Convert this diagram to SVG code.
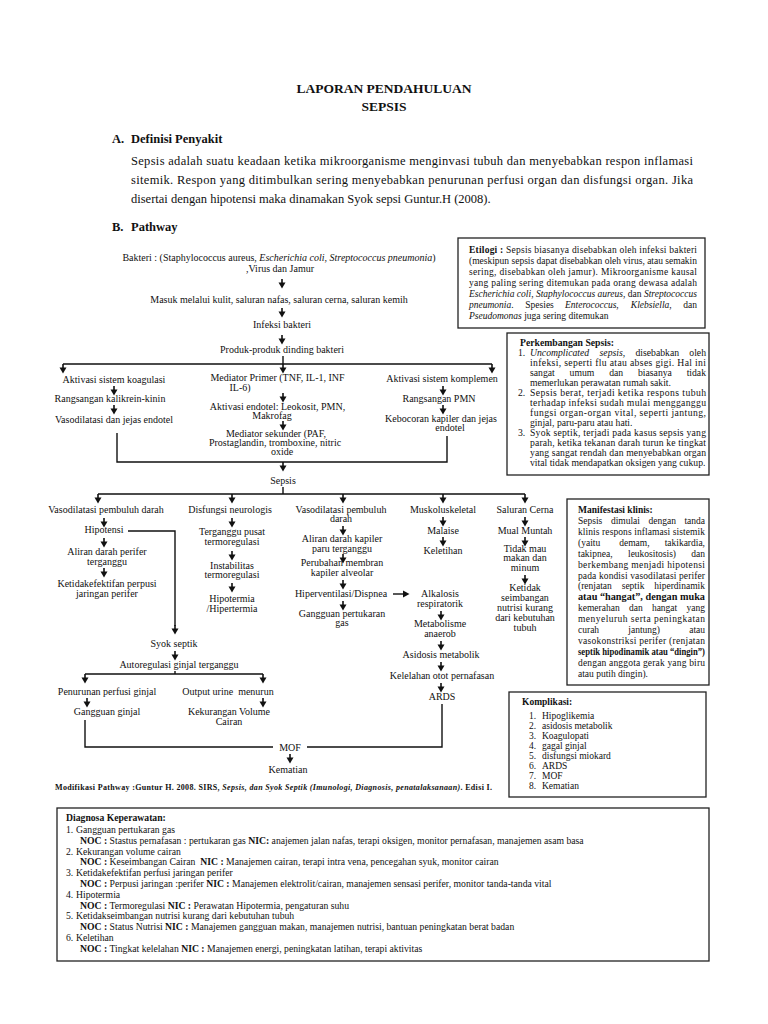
<svg xmlns="http://www.w3.org/2000/svg" width="768" height="1024" viewBox="0 0 768 1024">
<defs>
<style>
text{font-family:"Liberation Serif","Times New Roman",serif;fill:#111}
.p{font-size:10px;text-anchor:middle}
.b{font-weight:bold}
.i{font-style:italic}
.box{fill:#fff;stroke:#222;stroke-width:1.3}
.ln{fill:none;stroke:#111;stroke-width:1.4}
.e{font-size:9.5px}
.k{font-size:9.7px}
.d{font-size:9.7px}
.end{text-anchor:end}
.h{font-size:13.5px;font-weight:bold;text-anchor:middle}
.q{font-size:12.5px}
</style>
<g id="ar"><line x1="0" y1="0" x2="0" y2="5" stroke="#111" stroke-width="1.6"/><path d="M-3.5,3.5H3.5L0,9.5Z" fill="#111"/></g>
</defs>
<rect width="768" height="1024" fill="#fff"/>

<g id="title">
<text class="h" x="384" y="93">LAPORAN PENDAHULUAN</text>
<text class="h" x="384" y="111">SEPSIS</text>
</g>

<g id="definisi">
<text class="q b" x="112" y="143">A.</text>
<text class="q b" x="131" y="143">Definisi Penyakit</text>
<text class="q" x="131" y="165" textLength="562" lengthAdjust="spacing">Sepsis adalah suatu keadaan ketika mikroorganisme menginvasi tubuh dan menyebabkan respon inflamasi</text>
<text class="q" x="131" y="184" textLength="562" lengthAdjust="spacing">sitemik. Respon yang ditimbulkan sering menyebabkan penurunan perfusi organ dan disfungsi organ. Jika</text>
<text class="q" x="131" y="203">disertai dengan hipotensi maka dinamakan Syok sepsi Guntur.H (2008).</text>
<text class="q b" x="112" y="231">B.</text>
<text class="q b" x="131" y="231">Pathway</text>
</g>

<g id="etiologi">
<rect class="box" x="458" y="238" width="247" height="90"/>
<text class="e" x="469" y="253" textLength="228" lengthAdjust="spacing"><tspan class="b">Etilogi :</tspan> Sepsis biasanya disebabkan oleh infeksi bakteri</text>
<text class="e" x="469" y="264" textLength="228" lengthAdjust="spacing">(meskipun sepsis dapat disebabkan oleh virus, atau semakin</text>
<text class="e" x="469" y="275" textLength="228" lengthAdjust="spacing">sering, disebabkan oleh jamur). Mikroorganisme kausal</text>
<text class="e" x="469" y="286" textLength="228" lengthAdjust="spacing">yang paling sering ditemukan pada orang dewasa adalah</text>
<text class="e" x="469" y="297" textLength="228" lengthAdjust="spacing"><tspan class="i">Escherichia coli</tspan>, <tspan class="i">Staphylococcus aureus</tspan>, dan <tspan class="i">Streptococcus</tspan></text>
<text class="e" y="308"><tspan class="i" x="469">pneumonia</tspan>.<tspan x="525.3">Spesies</tspan><tspan class="i" x="565">Enterococcus</tspan>,<tspan class="i" x="630.8">Klebsiella</tspan>,</text>
<text class="e end" x="697" y="308">dan</text>
<text class="e" x="469" y="319"><tspan class="i">Pseudomonas</tspan> juga sering ditemukan</text>
</g>

<g id="perkembangan">
<rect class="box" x="507" y="333" width="202" height="142"/>
<text class="k b" x="520" y="346">Perkembangan Sepsis:</text>
<text class="k" x="518" y="356">1.</text>
<text class="k" y="356"><tspan class="i" x="530">Uncomplicated</tspan><tspan class="i" x="599.6">sepsis</tspan>,<tspan x="635.5">disebabkan</tspan></text>
<text class="k end" x="706" y="356">oleh</text>
<text class="k" x="530" y="366" textLength="176" lengthAdjust="spacing">infeksi, seperti flu atau abses gigi. Hal ini</text>
<text class="k" y="376"><tspan x="530">sangat</tspan><tspan x="569.6">umum</tspan><tspan x="609.2">dan</tspan><tspan x="638">biasanya</tspan></text>
<text class="k end" x="706" y="376">tidak</text>
<text class="k" x="530" y="386">memerlukan perawatan rumah sakit.</text>
<text class="k" x="518" y="396">2.</text>
<text class="k" x="530" y="396" textLength="176" lengthAdjust="spacing">Sepsis berat, terjadi ketika respons tubuh</text>
<text class="k" x="530" y="406" textLength="176" lengthAdjust="spacing">terhadap infeksi sudah mulai mengganggu</text>
<text class="k" x="530" y="416" textLength="176" lengthAdjust="spacing">fungsi organ-organ vital, seperti jantung,</text>
<text class="k" x="530" y="426">ginjal, paru-paru atau hati.</text>
<text class="k" x="518" y="436">3.</text>
<text class="k" x="530" y="436" textLength="176" lengthAdjust="spacing">Syok septik, terjadi pada kasus sepsis yang</text>
<text class="k" x="530" y="446" textLength="176" lengthAdjust="spacing">parah, ketika tekanan darah turun ke tingkat</text>
<text class="k" x="530" y="456" textLength="176" lengthAdjust="spacing">yang sangat rendah dan menyebabkan organ</text>
<text class="k" x="530" y="466">vital tidak mendapatkan oksigen yang cukup.</text>
</g>

<g id="manifestasi">
<rect class="box" x="567" y="499" width="142" height="186"/>
<text class="e b" x="578" y="513">Manifestasi klinis:</text>
<text class="e" y="524"><tspan x="578">Sepsis</tspan><tspan x="610.9">dimulai</tspan><tspan x="648.5">dengan</tspan></text>
<text class="e end" x="705" y="524">tanda</text>
<text class="e" x="578" y="534.9" textLength="127" lengthAdjust="spacing">klinis respons inflamasi sistemik</text>
<text class="e" y="545.8"><tspan x="578">(yaitu</tspan><tspan x="619.2">demam,</tspan></text>
<text class="e end" x="705" y="545.8">takikardia,</text>
<text class="e" y="556.7"><tspan x="578">takipnea,</tspan><tspan x="628">leukositosis)</tspan></text>
<text class="e end" x="705" y="556.7">dan</text>
<text class="e" x="578" y="567.6" textLength="127" lengthAdjust="spacing">berkembang menjadi hipotensi</text>
<text class="e" x="578" y="578.5" textLength="127" lengthAdjust="spacing">pada kondisi vasodilatasi perifer</text>
<text class="e" y="589.4"><tspan x="578">(renjatan</tspan><tspan x="621.7">septik</tspan></text>
<text class="e end" x="705" y="589.4">hiperdinamik</text>
<text class="e b" x="578" y="600.3" textLength="127" lengthAdjust="spacingAndGlyphs">atau “hangat”, dengan muka</text>
<text class="e" y="611.2"><tspan x="578">kemerahan</tspan><tspan x="629">dan</tspan><tspan x="651.9">hangat</tspan></text>
<text class="e end" x="705" y="611.2">yang</text>
<text class="e" x="578" y="622.1" textLength="127" lengthAdjust="spacing">menyeluruh serta peningkatan</text>
<text class="e" y="633"><tspan x="578">curah</tspan><tspan x="628.3">jantung)</tspan></text>
<text class="e end" x="705" y="633">atau</text>
<text class="e" x="578" y="643.9" textLength="127" lengthAdjust="spacing">vasokonstriksi perifer (renjatan</text>
<text class="e b" x="578" y="654.8" textLength="127" lengthAdjust="spacingAndGlyphs">septik hipodinamik atau “dingin”)</text>
<text class="e" x="578" y="665.7" textLength="127" lengthAdjust="spacing">dengan anggota gerak yang biru</text>
<text class="e" x="578" y="676.6">atau putih dingin).</text>
</g>

<g id="komplikasi">
<rect class="box" x="509" y="692" width="197" height="105"/>
<text class="e b" x="522" y="705">Komplikasi:</text>
<text class="e" x="529" y="719">1.</text><text class="e" x="542" y="719">Hipoglikemia</text>
<text class="e" x="529" y="729">2.</text><text class="e" x="542" y="729">asidosis metabolik</text>
<text class="e" x="529" y="739">3.</text><text class="e" x="542" y="739">Koagulopati</text>
<text class="e" x="529" y="749">4.</text><text class="e" x="542" y="749">gagal ginjal</text>
<text class="e" x="529" y="759">5.</text><text class="e" x="542" y="759">disfungsi miokard</text>
<text class="e" x="529" y="769">6.</text><text class="e" x="542" y="769">ARDS</text>
<text class="e" x="529" y="779">7.</text><text class="e" x="542" y="779">MOF</text>
<text class="e" x="529" y="789">8.</text><text class="e" x="542" y="789">Kematian</text>
</g>

<g id="n-bakteri"><text class="p" x="279" y="261">Bakteri  : (Staphylococcus aureus, <tspan class="i">Escherichia coli</tspan>, <tspan class="i">Streptococcus pneumonia</tspan>)</text><text class="p" x="280" y="272">,Virus dan  Jamur</text></g>
<g id="n-masuk"><text class="p" x="279" y="303">Masuk melalui kulit, saluran nafas, saluran cerna, saluran kemih</text></g>
<g id="n-infeksi"><text class="p" x="282" y="328">Infeksi bakteri</text></g>
<g id="n-produk"><text class="p" x="282" y="353">Produk-produk dinding bakteri</text></g>
<g id="n-koagulasi"><text class="p" x="114" y="383">Aktivasi sistem koagulasi</text></g>
<g id="n-kalikrein"><text class="p" x="110" y="402">Rangsangan kalikrein-kinin</text></g>
<g id="n-vasojejas"><text class="p" x="114" y="423">Vasodilatasi dan jejas endotel</text></g>
<g id="n-medprimer"><text class="p" x="277.5" y="381">Mediator Primer (TNF, IL-1, INF</text><text class="p" x="240" y="391">IL-6)</text></g>
<g id="n-endotel"><text class="p" x="277.5" y="410">Aktivasi endotel: Leokosit, PMN,</text><text class="p" x="272" y="419">Makrofag</text></g>
<g id="n-medsekunder"><text class="p" x="276" y="437">Mediator sekunder (PAF,</text><text class="p" x="275" y="446">Prostaglandin, tromboxine, nitric</text><text class="p" x="282" y="455">oxide</text></g>
<g id="n-komplemen"><text class="p" x="442" y="382">Aktivasi sistem komplemen</text></g>
<g id="n-pmn"><text class="p" x="439" y="402">Rangsangan PMN</text></g>
<g id="n-kebocoran"><text class="p" x="441" y="422">Kebocoran kapiler dan jejas</text><text class="p" x="450" y="431">endotel</text></g>
<g id="n-sepsis"><text class="p" x="283" y="484">Sepsis</text></g>

<g id="n-vaso1"><text class="p" x="106" y="513">Vasodilatasi pembuluh darah</text></g>
<g id="n-hipotensi"><text class="p" x="104" y="533">Hipotensi</text></g>
<g id="n-aliran1"><text class="p" x="107" y="555">Aliran darah perifer</text><text class="p" x="107" y="565">terganggu</text></g>
<g id="n-perpusi"><text class="p" x="107" y="587">Ketidakefektifan perpusi</text><text class="p" x="107" y="597">jaringan perifer</text></g>
<g id="n-neuro"><text class="p" x="230" y="513">Disfungsi neurologis</text></g>
<g id="n-pusat"><text class="p" x="232" y="535">Terganggu pusat</text><text class="p" x="232" y="545">termoregulasi</text></g>
<g id="n-instab"><text class="p" x="232" y="569">Instabilitas</text><text class="p" x="232" y="578">termoregulasi</text></g>
<g id="n-hipotermia"><text class="p" x="232" y="602">Hipotermia</text><text class="p" x="232" y="612">/Hipertermia</text></g>
<g id="n-vaso2"><text class="p" x="341" y="513">Vasodilatasi pembuluh</text><text class="p" x="341" y="522">darah</text></g>
<g id="n-aliran2"><text class="p" x="342" y="542">Aliran darah kapiler</text><text class="p" x="342" y="552">paru terganggu</text></g>
<g id="n-membran"><text class="p" x="342" y="566">Perubahan membran</text><text class="p" x="342" y="576">kapiler alveolar</text></g>
<g id="n-hiperv"><text class="p" x="341" y="597">Hiperventilasi/Dispnea</text></g>
<g id="n-gangguangas"><text class="p" x="342" y="617">Gangguan pertukaran</text><text class="p" x="342" y="626">gas</text></g>
<g id="n-musk"><text class="p" x="443" y="513">Muskoluskeletal</text></g>
<g id="n-malaise"><text class="p" x="443" y="534">Malaise</text></g>
<g id="n-keletihan"><text class="p" x="443" y="554">Keletihan</text></g>
<g id="n-alkalosis"><text class="p" x="440" y="597">Alkalosis</text><text class="p" x="440" y="607">respiratorik</text></g>
<g id="n-metab"><text class="p" x="440" y="627">Metabolisme</text><text class="p" x="440" y="637">anaerob</text></g>
<g id="n-asidosis"><text class="p" x="441" y="658">Asidosis metabolik</text></g>
<g id="n-kelelahan"><text class="p" x="442" y="679">Kelelahan otot pernafasan</text></g>
<g id="n-ards"><text class="p" x="442" y="700">ARDS</text></g>
<g id="n-cerna"><text class="p" x="525" y="513">Saluran Cerna</text></g>
<g id="n-mual"><text class="p" x="525" y="534">Mual Muntah</text></g>
<g id="n-tidakmau"><text class="p" x="525" y="552">Tidak mau</text><text class="p" x="525" y="561">makan dan</text><text class="p" x="525" y="571">minum</text></g>
<g id="n-nutrisi"><text class="p" x="525" y="591">Ketidak</text><text class="p" x="525" y="601">seimbangan</text><text class="p" x="525" y="611">nutrisi kurang</text><text class="p" x="525" y="621">dari kebutuhan</text><text class="p" x="525" y="631">tubuh</text></g>
<g id="n-syok"><text class="p" x="174" y="647">Syok septik</text></g>
<g id="n-autoreg"><text class="p" x="179" y="668">Autoregulasi ginjal terganggu</text></g>
<g id="n-perfusiginjal"><text class="p" x="107" y="695">Penurunan perfusi ginjal</text></g>
<g id="n-ginjal"><text class="p" x="107" y="715">Gangguan ginjal</text></g>
<g id="n-urine"><text class="p" x="228" y="695" xml:space="preserve">Output urine  menurun</text></g>
<g id="n-volume"><text class="p" x="229" y="715">Kekurangan Volume</text><text class="p" x="229" y="725">Cairan</text></g>
<g id="n-mof"><text class="p" x="290" y="751">MOF</text></g>
<g id="n-kematian"><text class="p" x="288" y="773">Kematian</text></g>

<g id="connectors">
<g class="ln">
<path d="M283,356V364M63,364H492"/>
<path d="M117,433V462H447V436"/>
<path d="M283,487V494M98,494H525"/>
<path d="M128,531H175V626"/>
<path d="M393,594H404"/>
<path d="M175,671V674M85,674H263"/>
<path d="M85,720V747H273M307,747H442V704"/>
</g>
<path d="M403,590.5L409.5,594L403,597.5Z" fill="#111"/>
<use href="#ar" x="282" y="279"/>
<use href="#ar" x="282" y="308"/>
<use href="#ar" x="282" y="335"/>
<use href="#ar" x="63" y="364"/>
<use href="#ar" x="283" y="364"/>
<use href="#ar" x="492" y="364"/>
<use href="#ar" x="114" y="386"/>
<use href="#ar" x="114" y="405"/>
<use href="#ar" x="283" y="393"/>
<use href="#ar" x="283" y="421"/>
<use href="#ar" x="443" y="386"/>
<use href="#ar" x="443" y="405"/>
<use href="#ar" x="283" y="462"/>
<use href="#ar" x="98" y="494"/>
<use href="#ar" x="232" y="494"/>
<use href="#ar" x="343" y="494"/>
<use href="#ar" x="443" y="494"/>
<use href="#ar" x="525" y="494"/>
<use href="#ar" x="104" y="518"/>
<use href="#ar" x="104" y="538"/>
<use href="#ar" x="104" y="568"/>
<use href="#ar" x="175" y="625"/>
<use href="#ar" x="232" y="518"/>
<use href="#ar" x="232" y="551"/>
<use href="#ar" x="232" y="583"/>
<use href="#ar" x="343" y="526"/>
<use href="#ar" x="343" y="554"/>
<use href="#ar" x="343" y="580"/>
<use href="#ar" x="343" y="601"/>
<use href="#ar" x="443" y="517"/>
<use href="#ar" x="443" y="537"/>
<use href="#ar" x="441" y="611"/>
<use href="#ar" x="441" y="641"/>
<use href="#ar" x="441" y="662"/>
<use href="#ar" x="441" y="683"/>
<use href="#ar" x="525" y="517"/>
<use href="#ar" x="525" y="537"/>
<use href="#ar" x="525" y="575"/>
<use href="#ar" x="175" y="651"/>
<use href="#ar" x="85" y="674"/>
<use href="#ar" x="263" y="674"/>
<use href="#ar" x="87" y="698"/>
<use href="#ar" x="263" y="698"/>
<use href="#ar" x="290" y="754"/>
</g>

<g id="sumber">
<text class="b" x="55" y="790" font-size="8" textLength="437" lengthAdjust="spacing">Modifikasi Pathway :Guntur H. 2008. SIRS, <tspan class="i">Sepsis, dan Syok Septik (Imunologi, Diagnosis, penatalaksanaan)</tspan>. Edisi I.</text>
</g>

<g id="diagnosa">
<rect class="box" x="57" y="808" width="652" height="153"/>
<text class="d b" x="66" y="821">Diagnosa Keperawatan:</text>
<text class="d" x="66" y="833">1.</text><text class="d" x="76" y="833">Gangguan pertukaran gas</text>
<text class="d" x="80" y="843.8"><tspan class="b">NOC :</tspan> Stastus pernafasan : pertukaran gas <tspan class="b">NIC:</tspan> anajemen jalan nafas, terapi oksigen, monitor pernafasan, manajemen asam basa</text>
<text class="d" x="66" y="854.6">2.</text><text class="d" x="76" y="854.6">Kekurangan volume cairan</text>
<text class="d" x="80" y="865.4" xml:space="preserve"><tspan class="b">NOC :</tspan> Keseimbangan Cairan  <tspan class="b">NIC :</tspan> Manajemen cairan, terapi intra vena, pencegahan syuk, monitor cairan</text>
<text class="d" x="66" y="876.2">3.</text><text class="d" x="76" y="876.2">Ketidakefektifan perfusi jaringan perifer</text>
<text class="d" x="80" y="887"><tspan class="b">NOC :</tspan> Perpusi jaringan :perifer <tspan class="b">NIC :</tspan> Manajemen elektrolit/cairan, manajemen sensasi perifer, monitor tanda-tanda vital</text>
<text class="d" x="66" y="897.8">4.</text><text class="d" x="76" y="897.8">Hipotermia</text>
<text class="d" x="80" y="908.6"><tspan class="b">NOC :</tspan> Termoregulasi <tspan class="b">NIC :</tspan> Perawatan Hipotermia, pengaturan suhu</text>
<text class="d" x="66" y="919.4">5.</text><text class="d" x="76" y="919.4">Ketidakseimbangan nutrisi kurang dari kebutuhan tubuh</text>
<text class="d" x="80" y="930.2"><tspan class="b">NOC :</tspan> Status Nutrisi <tspan class="b">NIC :</tspan> Manajemen gangguan makan, manajemen nutrisi, bantuan peningkatan berat badan</text>
<text class="d" x="66" y="941">6.</text><text class="d" x="76" y="941">Keletihan</text>
<text class="d" x="80" y="951.8"><tspan class="b">NOC :</tspan> Tingkat kelelahan <tspan class="b">NIC :</tspan> Manajemen energi, peningkatan latihan, terapi aktivitas</text>
</g>
</svg>
